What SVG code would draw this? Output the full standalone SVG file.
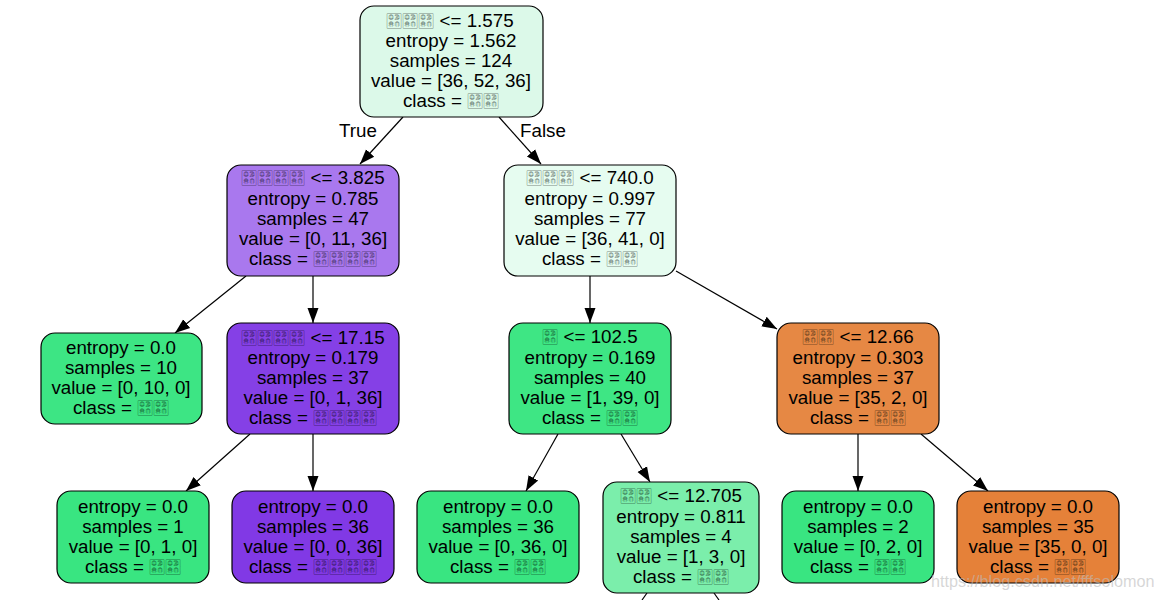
<svg xmlns="http://www.w3.org/2000/svg" width="1162" height="600" viewBox="0 0 1162 600">
<defs><marker id="a" markerUnits="userSpaceOnUse" markerWidth="16" markerHeight="14" refX="15" refY="7" orient="auto"><path d="M0 1.5L15 7L0 12.5z" fill="#000"/></marker></defs>
<style>
text{font-family:"Liberation Sans",Arial,sans-serif;font-size:18.75px;text-anchor:middle;fill:#000}
.t{font-size:16.2px;fill:none;stroke:#000;stroke-width:.22}
.n rect{stroke:#000;stroke-width:1.2}
#connectors line{stroke:#000;stroke-width:1.2;marker-end:url(#a)}
#connectors line.o{marker-end:none}
.w{font-size:16.2px;fill:#bbb;fill-opacity:.6;text-anchor:start}
</style>
<rect width="1162" height="600" fill="#fff"/>
<g id="connectors">
<line x1="403" y1="117" x2="360" y2="164"/>
<line x1="499" y1="117" x2="541" y2="164"/>
<line x1="246" y1="276" x2="175" y2="333"/>
<line x1="313" y1="276" x2="313" y2="323"/>
<line x1="590" y1="276" x2="590" y2="323"/>
<line x1="676" y1="271" x2="777" y2="329"/>
<line x1="250" y1="434" x2="186" y2="491"/>
<line x1="313" y1="434" x2="313" y2="491"/>
<line x1="558" y1="434" x2="526" y2="491"/>
<line x1="621" y1="434" x2="650" y2="482"/>
<line x1="858" y1="434" x2="858" y2="491"/>
<line x1="921" y1="434" x2="988" y2="491"/>
<line class="o" x1="647" y1="593" x2="642" y2="600"/>
<line class="o" x1="714" y1="593" x2="719" y2="600"/>
</g>
<g id="edge-labels">
<text x="358" y="137">True</text>
<text x="543" y="137">False</text>
</g>
<g id="n0" class="n"><rect x="360" y="6" width="183" height="111" rx="14" fill="#dcf9e9"/>
<text x="450" y="27"><tspan class="t">&#x380;&#x380;&#x380;</tspan> &lt;= 1.575</text>
<text x="451" y="47">entropy = 1.562</text>
<text x="451" y="67">samples = 124</text>
<text x="451" y="87">value = [36, 52, 36]</text>
<text x="451" y="107">class = <tspan class="t">&#x380;&#x380;</tspan></text></g>
<g id="n1" class="n"><rect x="227" y="165" width="172" height="111" rx="14" fill="#a978ee"/>
<text x="313" y="184"><tspan class="t">&#x380;&#x380;&#x380;&#x380;</tspan> &lt;= 3.825</text>
<text x="313" y="205">entropy = 0.785</text>
<text x="313" y="225">samples = 47</text>
<text x="313" y="245">value = [0, 11, 36]</text>
<text x="313" y="265">class = <tspan class="t">&#x380;&#x380;&#x380;&#x380;</tspan></text></g>
<g id="n2" class="n"><rect x="504" y="165" width="172" height="111" rx="14" fill="#e6fcf0"/>
<text x="590" y="184"><tspan class="t">&#x380;&#x380;&#x380;</tspan> &lt;= 740.0</text>
<text x="590" y="205">entropy = 0.997</text>
<text x="590" y="225">samples = 77</text>
<text x="590" y="245">value = [36, 41, 0]</text>
<text x="590" y="265">class = <tspan class="t">&#x380;&#x380;</tspan></text></g>
<g id="n3" class="n"><rect x="41" y="333" width="161" height="91" rx="14" fill="#3de584"/>
<text x="121" y="354">entropy = 0.0</text>
<text x="121" y="374">samples = 10</text>
<text x="121" y="394">value = [0, 10, 0]</text>
<text x="121" y="414">class = <tspan class="t">&#x380;&#x380;</tspan></text></g>
<g id="n4" class="n"><rect x="227" y="323" width="172" height="111" rx="14" fill="#8540e6"/>
<text x="313" y="344"><tspan class="t">&#x380;&#x380;&#x380;&#x380;</tspan> &lt;= 17.15</text>
<text x="313" y="364">entropy = 0.179</text>
<text x="313" y="384">samples = 37</text>
<text x="313" y="404">value = [0, 1, 36]</text>
<text x="313" y="424">class = <tspan class="t">&#x380;&#x380;&#x380;&#x380;</tspan></text></g>
<g id="n5" class="n"><rect x="509" y="323" width="162" height="111" rx="14" fill="#3ee684"/>
<text x="590" y="343"><tspan class="t">&#x380;</tspan> &lt;= 102.5</text>
<text x="590" y="364">entropy = 0.169</text>
<text x="590" y="384">samples = 40</text>
<text x="590" y="404">value = [1, 39, 0]</text>
<text x="590" y="424">class = <tspan class="t">&#x380;&#x380;</tspan></text></g>
<g id="n6" class="n"><rect x="777" y="323" width="162" height="111" rx="14" fill="#e68844"/>
<text x="858" y="343"><tspan class="t">&#x380;&#x380;</tspan> &lt;= 12.66</text>
<text x="858" y="364">entropy = 0.303</text>
<text x="858" y="384">samples = 37</text>
<text x="858" y="404">value = [35, 2, 0]</text>
<text x="858" y="424">class = <tspan class="t">&#x380;&#x380;</tspan></text></g>
<g id="n7" class="n"><rect x="57" y="491" width="152" height="92" rx="14" fill="#39e581"/>
<text x="133" y="513">entropy = 0.0</text>
<text x="133" y="533">samples = 1</text>
<text x="133" y="553">value = [0, 1, 0]</text>
<text x="133" y="573">class = <tspan class="t">&#x380;&#x380;</tspan></text></g>
<g id="n8" class="n"><rect x="232" y="491" width="162" height="92" rx="14" fill="#8139e5"/>
<text x="313" y="513">entropy = 0.0</text>
<text x="313" y="533">samples = 36</text>
<text x="313" y="553">value = [0, 0, 36]</text>
<text x="313" y="573">class = <tspan class="t">&#x380;&#x380;&#x380;&#x380;</tspan></text></g>
<g id="n9" class="n"><rect x="417" y="491" width="162" height="92" rx="14" fill="#39e581"/>
<text x="498" y="513">entropy = 0.0</text>
<text x="498" y="533">samples = 36</text>
<text x="498" y="553">value = [0, 36, 0]</text>
<text x="498" y="573">class = <tspan class="t">&#x380;&#x380;</tspan></text></g>
<g id="n10" class="n"><rect x="603" y="482" width="156" height="111" rx="14" fill="#7beeab"/>
<text x="681" y="502"><tspan class="t">&#x380;&#x380;</tspan> &lt;= 12.705</text>
<text x="681" y="523">entropy = 0.811</text>
<text x="681" y="543">samples = 4</text>
<text x="681" y="563">value = [1, 3, 0]</text>
<text x="681" y="583">class = <tspan class="t">&#x380;&#x380;</tspan></text></g>
<g id="n11" class="n"><rect x="782" y="491" width="152" height="92" rx="14" fill="#39e581"/>
<text x="858" y="513">entropy = 0.0</text>
<text x="858" y="533">samples = 2</text>
<text x="858" y="553">value = [0, 2, 0]</text>
<text x="858" y="573">class = <tspan class="t">&#x380;&#x380;</tspan></text></g>
<g id="n12" class="n"><rect x="957" y="491" width="162" height="92" rx="14" fill="#e58139"/>
<text x="1038" y="513">entropy = 0.0</text>
<text x="1038" y="533">samples = 35</text>
<text x="1038" y="553">value = [35, 0, 0]</text>
<text x="1038" y="573">class = <tspan class="t">&#x380;&#x380;</tspan></text></g>
<text class="w" x="931" y="587">https://blog.csdn.net/fffsolomon</text>
</svg>
